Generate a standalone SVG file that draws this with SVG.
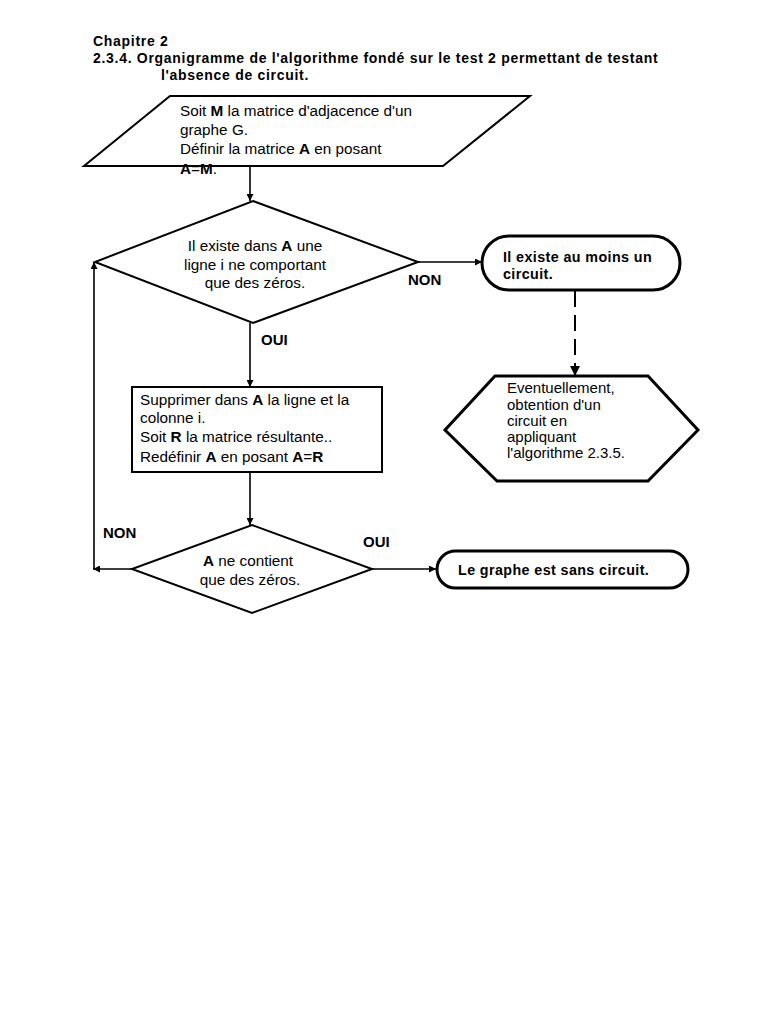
<svg xmlns="http://www.w3.org/2000/svg" width="768" height="1024" viewBox="0 0 768 1024">
<defs>
<style>
.s{fill:#fff;stroke:#000;stroke-width:2}
.t{fill:#fff;stroke:#000;stroke-width:3}
.c{fill:none;stroke:#000;stroke-width:1.6}
.d{fill:none;stroke:#000;stroke-width:2;stroke-dasharray:16 8}
text{font-family:"Liberation Sans",Arial,sans-serif;font-size:15.3px;fill:#000}
.b{font-weight:bold}
.h{font-weight:bold;font-size:14px;letter-spacing:0.7px}
.l{font-weight:bold;font-size:15px}
.x{font-size:15px}
.tb{font-weight:bold;font-size:14.3px;letter-spacing:0.4px}
</style>
<marker id="ar" viewBox="0 0 10 10" refX="10" refY="5" markerWidth="7" markerHeight="7" markerUnits="userSpaceOnUse" orient="auto">
<path d="M0,0 L10,5 L0,10 z" fill="#000"/>
</marker>
</defs>
<rect width="768" height="1024" fill="#fff"/>
<g id="title">
<text class="h" x="93" y="46">Chapitre 2</text>
<text class="h" x="93" y="63">2.3.4. Organigramme de l'algorithme fondé sur le test 2 permettant de testant</text>
<text class="h" x="161" y="80">l'absence de circuit.</text>
</g>
<g id="connectors">
<line class="c" x1="250" y1="166" x2="250" y2="201" marker-end="url(#ar)"/>
<line class="c" x1="418" y1="262" x2="482" y2="262" marker-end="url(#ar)"/>
<line class="d" x1="575" y1="291" x2="575" y2="376" />
<path d="M570,366 L580,366 L575,376 z" fill="#000"/>
<line class="c" x1="250" y1="323" x2="250" y2="387" marker-end="url(#ar)"/>
<line class="c" x1="250" y1="472" x2="250" y2="525" marker-end="url(#ar)"/>
<line class="c" x1="372" y1="569" x2="436" y2="569" marker-end="url(#ar)"/>
<line class="c" x1="132" y1="569" x2="93" y2="569" marker-end="url(#ar)"/>
<line class="c" x1="94" y1="569" x2="94" y2="262" marker-end="url(#ar)"/>
<text class="l" x="408" y="285">NON</text>
<text class="l" x="261" y="345">OUI</text>
<text class="l" x="103" y="538">NON</text>
<text class="l" x="363" y="547">OUI</text>
</g>
<g id="input">
<polygon class="s" points="170,96 530,96 443,166 84,166"/>
<text x="180" y="116">Soit <tspan class="b">M</tspan> la matrice d'adjacence d'un</text>
<text x="180" y="135">graphe G.</text>
<text x="180" y="154">Définir la matrice <tspan class="b">A</tspan> en posant</text>
<text x="180" y="174"><tspan class="b">A</tspan>=<tspan class="b">M</tspan>.</text>
</g>
<g id="decision1">
<polygon class="s" points="253,201 418,262 253,323 95,262"/>
<text x="255" y="251" text-anchor="middle">Il existe dans <tspan class="b">A</tspan> une</text>
<text x="255" y="270" text-anchor="middle">ligne i ne comportant</text>
<text x="255" y="288" text-anchor="middle">que des zéros.</text>
</g>
<g id="terminal1">
<rect class="t" x="482" y="236" width="198" height="54" rx="27" ry="27"/>
<text class="tb" x="503" y="262">Il existe au moins un</text>
<text class="tb" x="503" y="279">circuit.</text>
</g>
<g id="hexagon">
<polygon class="t" points="495,376 648,376 698,430 648,481 497,481 445,430"/>
<text class="x" x="507" y="393">Eventuellement,</text>
<text class="x" x="507" y="410">obtention d'un</text>
<text class="x" x="507" y="426">circuit en</text>
<text class="x" x="507" y="442">appliquant</text>
<text class="x" x="507" y="458">l'algorithme 2.3.5.</text>
</g>
<g id="process">
<rect class="s" x="132" y="387" width="250" height="85"/>
<text x="140" y="405">Supprimer dans <tspan class="b">A</tspan> la ligne et la</text>
<text x="140" y="423">colonne i.</text>
<text x="140" y="442">Soit <tspan class="b">R</tspan> la matrice résultante..</text>
<text x="140" y="462">Redéfinir <tspan class="b">A</tspan> en posant <tspan class="b">A</tspan>=<tspan class="b">R</tspan></text>
</g>
<g id="decision2">
<polygon class="s" points="252,525 372,569 252,613 132,569"/>
<text x="248" y="566" text-anchor="middle"><tspan class="b">A</tspan> ne contient</text>
<text x="250" y="585" text-anchor="middle">que des zéros.</text>
</g>
<g id="terminal2">
<rect class="t" x="437" y="551" width="251" height="37" rx="18.5" ry="18.5"/>
<text class="tb" x="458" y="575">Le graphe est sans circuit.</text>
</g>
</svg>
